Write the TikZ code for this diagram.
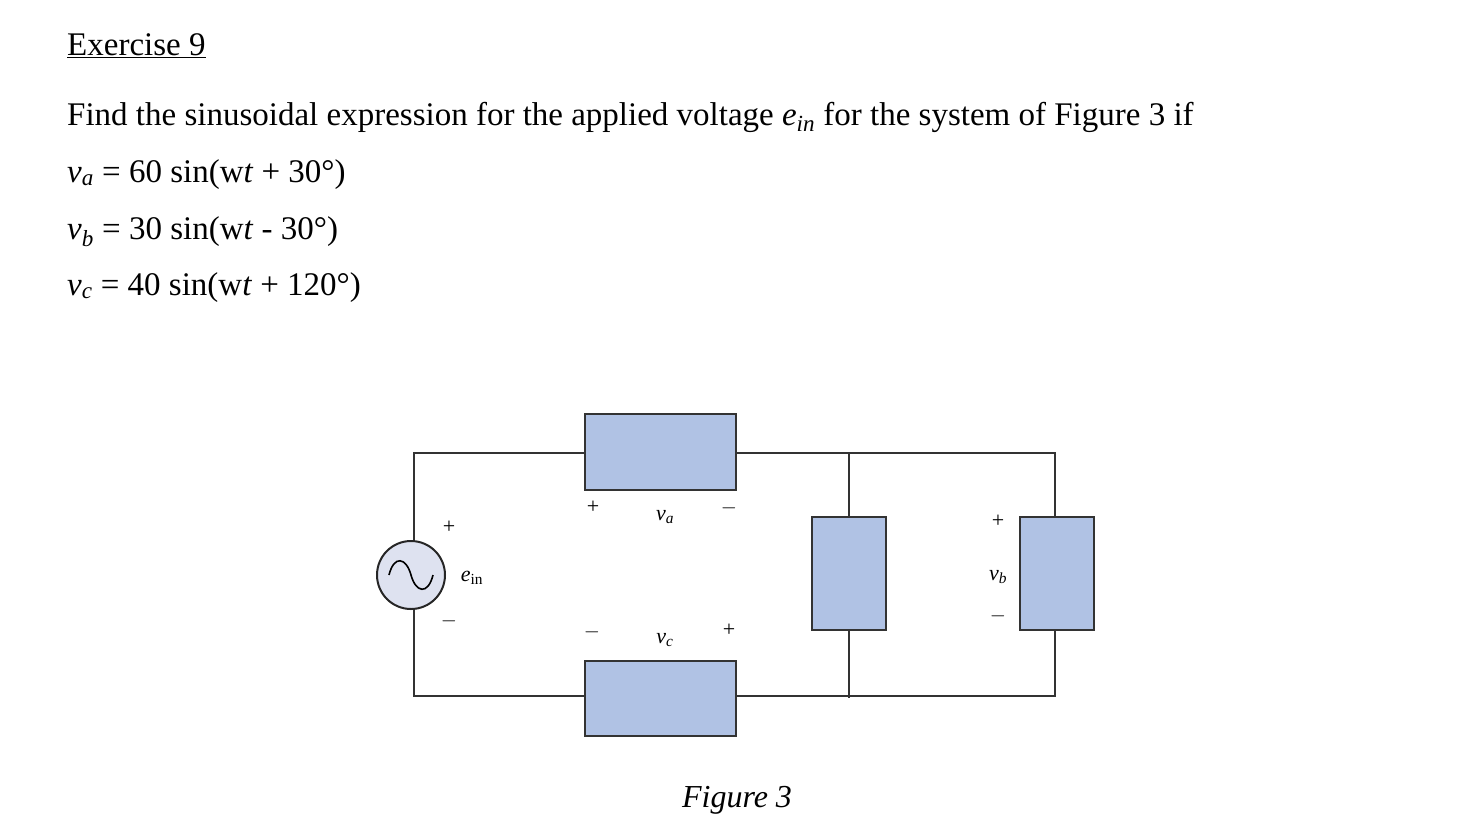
\documentclass[tikz,border=0pt]{standalone}
\usepackage{fontspec}
\setmainfont{Liberation Serif}
\begin{document}
\begin{tikzpicture}[x=1pt,y=-1pt,
  box/.style={draw=black!80,fill=blbox,line width=1.3pt},
  wire/.style={line width=1.3pt,black!80},
  lbl/.style={font=\fontsize{22}{24}\selectfont},
  txt/.style={anchor=base west,inner sep=0pt,font=\fontsize{33}{38}\selectfont}]
\definecolor{blbox}{RGB}{176,194,228}
\definecolor{blsrc}{RGB}{222,226,240}
\useasboundingbox (0,0) rectangle (1477,823);
\node[txt] (t0) at (67,55) {\underline{Exercise 9}};
\node[txt] (t1) at (67,125) {Find the sinusoidal expression for the applied voltage \textit{e}\textsubscript{\textit{in}} for the system of Figure 3 if};
\node[txt] (t2) at (67,182) {\textit{v}\textsubscript{\textit{a}} = 60 sin(w\textit{t} + 30°)};
\node[txt] (t3) at (67,239) {\textit{v}\textsubscript{\textit{b}} = 30 sin(w\textit{t} - 30°)};
\node[txt] (t4) at (67,295) {\textit{v}\textsubscript{\textit{c}} = 40 sin(w\textit{t} + 120°)};
% wires
\coordinate (tl) at (414,453); \coordinate (bl) at (414,696);
\coordinate (tm) at (849,453); \coordinate (bm) at (849,698);
\coordinate (tr) at (1055,453); \coordinate (br) at (1055,696);
\node[box,minimum width=151pt,minimum height=76pt] (A) at (660.5,452) {};
\node[box,minimum width=151pt,minimum height=75pt] (C) at (660.5,698.5) {};
\node[box,minimum width=74pt,minimum height=113pt] (M) at (849,573.5) {};
\node[box,minimum width=74pt,minimum height=113pt] (B) at (1057,573.5) {};
\node[draw=black!85,fill=blsrc,line width=2pt,circle,minimum size=68pt,inner sep=0pt] (S) at (411,575) {};
\draw[wire] (tl|-S.north) -- (tl) -- (tl-|A.west);
\draw[wire] (bl|-S.south) -- (bl) -- (bl-|C.west);
\draw[wire] (tl-|A.east) -- (tr) -- (B.north-|tr);
\draw[wire] (bl-|C.east) -- (br) -- (B.south-|br);
\draw[wire] (tm) -- (M.north); \draw[wire] (M.south) -- (bm);
\draw[line width=1.6pt] ([xshift=-22pt]S.center) .. controls (-17+411,-20+575) and (-5+411,-18+575) .. (S.center) .. controls (5+411,18+575) and (17+411,20+575) .. ([xshift=22pt]S.center);
% labels
\node[lbl] (p1) at (449,527) {+};
\node[lbl] (m1) at (449,621) {$-$};
\node[lbl] (e) at (472,578) {\textit{e}\textsubscript{in}};
\node[lbl] (p2) at (593,507) {+};
\node[lbl] (va) at (665,517) {\textit{v\textsubscript{a}}};
\node[lbl] (m2) at (729,508) {$-$};
\node[lbl] (m3) at (592,632) {$-$};
\node[lbl] (vc) at (665,640) {\textit{v\textsubscript{c}}};
\node[lbl] (p3) at (729,630) {+};
\node[lbl] (p4) at (998,521) {+};
\node[lbl] (vb) at (998,577) {\textit{v\textsubscript{b}}};
\node[lbl] (m4) at (998,616) {$-$};
\node[font=\fontsize{32}{36}\selectfont\itshape] (fig) at (737,800) {Figure 3};
\end{tikzpicture}
\end{document}
